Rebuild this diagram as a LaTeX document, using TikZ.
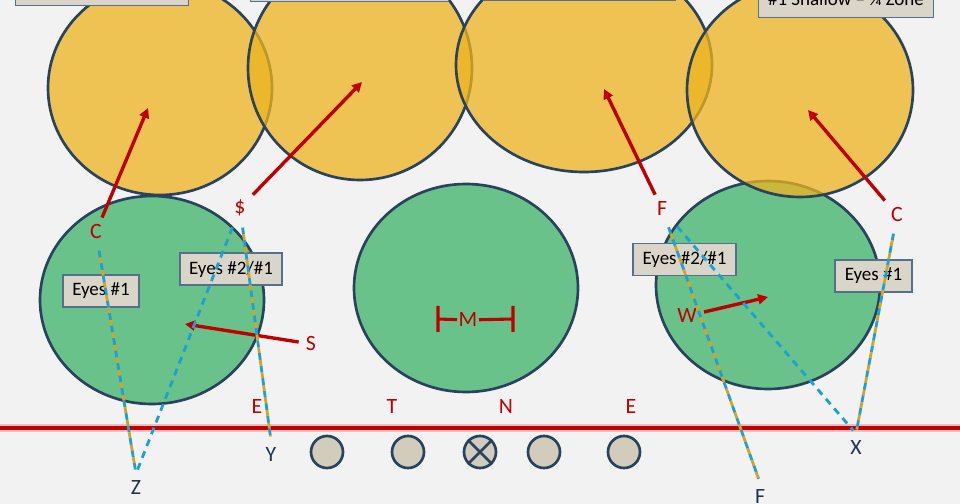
\documentclass[tikz,border=0pt]{standalone}
\usepackage{fontspec}
\setmainfont{Carlito}
\usepackage{xcolor}
\usepackage{tikz}
\definecolor{fieldGray}{RGB}{242,242,242}
\definecolor{zoneGold}{RGB}{237,180,30}
\definecolor{hookGreen}{RGB}{104,194,138}
\definecolor{rimNavy}{RGB}{41,66,94}
\definecolor{playRed}{RGB}{192,0,0}
\definecolor{eyeBlue}{RGB}{30,160,215}
\definecolor{eyeGold}{RGB}{214,164,30}
\definecolor{tagFill}{RGB}{217,213,200}
\definecolor{tagEdge}{RGB}{84,112,140}
\definecolor{lineFill}{RGB}{210,204,188}
\definecolor{offNavy}{RGB}{31,52,84}
\usetikzlibrary{arrows.meta}

\begin{document}
\begin{tikzpicture}[
    x=0.025cm, y=-0.025cm,
    zone/.style={draw=rimNavy, line width=1.9pt, fill=zoneGold, fill opacity=0.75},
    hook/.style={draw=rimNavy, line width=1.9pt, fill=hookGreen},
    tag/.style={rectangle, draw=tagEdge, line width=0.8pt, fill=tagFill, text=black, font=\fontsize{13.5}{16}\selectfont},
    def/.style={text=playRed, inner sep=5pt, font=\fontsize{15.5}{18}\selectfont},
    off/.style={text=offNavy, inner sep=5pt, font=\fontsize{15.5}{18}\selectfont},
    lineman/.style={circle, draw=rimNavy, line width=1.9pt, fill=lineFill, minimum size=0.8cm, inner sep=0pt},
    route/.style={-{Triangle[length=7pt, width=7pt]}, line width=2.4pt, playRed},
    bar/.style={line width=2.2pt, playRed},
    eyes/.style={line width=2pt, eyeBlue, dash pattern=on 5pt off 4pt, shorten <=3pt, shorten >=3pt},
    eyesdot/.style={line width=2pt, eyeGold, dash pattern=on 4pt off 5pt, dash phase=4pt, shorten <=3pt, shorten >=3pt}
]
    \path[use as bounding box, fill=fieldGray] (0,0) rectangle (960,504);
    \clip (0,0) rectangle (960,504);

    \draw[hook] (152,300) ellipse [x radius=112, y radius=104];
    \draw[hook] (466,288) ellipse [x radius=112, y radius=104];
    \draw[hook] (768,285) ellipse [x radius=112, y radius=104];

    \draw[zone] (160,88) ellipse [x radius=112, y radius=107];
    \draw[zone] (360,68) ellipse [x radius=112, y radius=112];
    \draw[zone] (584,65) ellipse [x radius=128, y radius=107];
    \draw[zone] (800,90) ellipse [x radius=113, y radius=107];

    \node[tag, anchor=south west, minimum width=4.325cm, minimum height=1cm] (tagA) at (15,6) {};
    \node[tag, anchor=south west, minimum width=4.95cm, minimum height=1cm] (tagB) at (250,2) {};
    \node[tag, anchor=south west, minimum width=4.8cm, minimum height=1cm] (tagC) at (483,1) {};
    \node[tag, anchor=base, minimum width=4.375cm, inner ysep=8pt] (tagD) at (846,6) {\#1 Shallow – ¼ Zone};

    \draw[playRed!25, line width=5pt] (0,428) -- (960,428);
    \draw[playRed, line width=2.8pt] (0,428) -- (960,428);

    \node[tag, minimum width=1.9cm, minimum height=0.8cm] (eyesZ) at (101,291) {Eyes \#1};
    \node[tag, minimum width=2.55cm, minimum height=0.8cm] (eyesY) at (231,269) {Eyes \#2/\#1};
    \node[tag, minimum width=2.575cm, minimum height=0.82cm] (eyesF) at (684.5,259.5) {Eyes \#2/\#1};
    \node[tag, minimum width=1.925cm, minimum height=0.8cm] (eyesX) at (873.5,276) {Eyes \#1};

    \node[def] (cL) at (96,232) {C};
    \node[def] (cash) at (240,208) {\$};
    \node[def] (sam) at (311,344) {S};
    \node[def] (fT) at (662,209) {F};
    \node[def] (cR) at (897,215) {C};
    \node[def] (will) at (687,316) {W};
    \node[def, inner sep=1pt] (mike) at (468,320) {M};
    \node[def] (eL) at (257,407) {E};
    \node[def] (tk) at (392,407) {T};
    \node[def] (nose) at (506,407) {N};
    \node[def] (eR) at (631,407) {E};

    \node[off] (y) at (271,455) {Y};
    \node[off] (z) at (136,488) {Z};
    \node[off] (x) at (856,448) {X};
    \node[off] (fB) at (760,497) {F};

    \node[lineman] (lg) at (327,452) {};
    \node[lineman] (lt) at (408,452) {};
    \node[lineman] (ctr) at (480,452) {};
    \node[lineman] (rg) at (544,452) {};
    \node[lineman] (rt) at (624,452) {};
    \draw[rimNavy, line width=1.9pt] (ctr.north west) -- (ctr.south east) (ctr.north east) -- (ctr.south west);

    \coordinate (mL) at (438,319);
    \coordinate (mR) at (513,319);
    \draw[bar] (mike) -- (mL) ++(0,-13) -- ++(0,26);
    \draw[bar] (mike) -- (mR) ++(0,-13) -- ++(0,26);

    \coordinate (cLto) at (148,108);
    \coordinate (cashto) at (362,82);
    \coordinate (fTto) at (604,89);
    \coordinate (cRto) at (808,110);
    \coordinate (samto) at (185,324);
    \coordinate (willto) at (768,297);
    \draw[route] (cL) -- (cLto);
    \draw[route] (cash) -- (cashto);
    \draw[route] (fT) -- (fTto);
    \draw[route] (cR) -- (cRto);
    \draw[route] (sam) -- (samto);
    \draw[route] (will) -- (willto);

    \draw[eyes] (cL) -- (z.north);
    \draw[eyesdot] (cL) -- (z.north);
    \draw[eyes] (cash) -- (z.north);
    \draw[eyes] (cash) -- (y.north);
    \draw[eyesdot] (cash) -- (y.north);
    \draw[eyes] (fT) -- (fB.north);
    \draw[eyesdot] (fT) -- (fB.north);
    \draw[eyes] (fT) -- (x.north);
    \draw[eyes] (cR) -- (x.north);
    \draw[eyesdot] (cR) -- (x.north);
\end{tikzpicture}
\end{document}
